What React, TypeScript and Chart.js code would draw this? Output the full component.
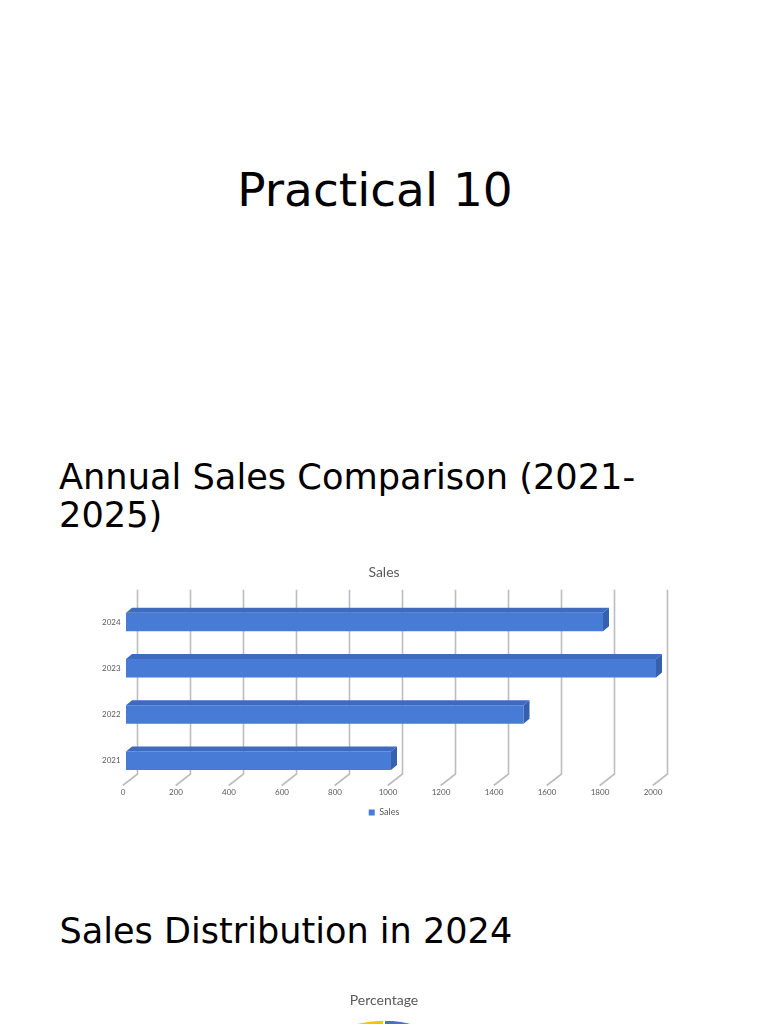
import React, { useEffect, useRef } from "react";
import { Chart, registerables } from "chart.js";

Chart.register(...registerables);

// ---- data ----
const years = ["2021", "2022", "2023", "2024"];
const salesValues = [1000, 1500, 2000, 1800];
const salesAxisMax = 2000;
const salesAxisStep = 200;

const pieLabels = ["Q1", "Q2", "Q3", "Q4"];
const piePercentages = [40, 25, 20, 15];
const pieColors = ["#4472c4", "#ed7d31", "#a5a5a5", "#ffc000"];

// ---- styles ----
const FRONT = "#487bd6";
const TOP_FACE = "#3e6bbf";
const SIDE_FACE = "#3560b0";
const GREY_TEXT = "#595959";
const CHART_FONT = "Lato, 'Open Sans', sans-serif";

const depthPlugin = {
  id: "depth3d",
  beforeDatasetsDraw(chart: any) {
    const { ctx, chartArea, scales } = chart;
    const xs = scales.x;
    ctx.save();
    ctx.strokeStyle = "#bdbdbd";
    ctx.lineWidth = 1.6;
    xs.ticks.forEach((t: any) => {
      const xf = xs.getPixelForValue(t.value);
      const xb = xf + 11.5;
      ctx.beginPath();
      ctx.moveTo(xb, chartArea.top - 9);
      ctx.lineTo(xb, chartArea.bottom - 10);
      ctx.lineTo(xf - 3.3, chartArea.bottom + 1.5);
      ctx.stroke();
    });
    ctx.restore();
  },
  afterDatasetsDraw(chart: any) {
    const { ctx } = chart;
    const meta = chart.getDatasetMeta(0);
    const dx = 6;
    const dy = 5;
    ctx.save();
    meta.data.forEach((bar: any) => {
      const { x, y, base, height } = bar.getProps(["x", "y", "base", "height"], true);
      const top = y - height / 2;
      const bottom = y + height / 2;
      ctx.fillStyle = TOP_FACE;
      ctx.beginPath();
      ctx.moveTo(base, top);
      ctx.lineTo(base + dx, top - dy);
      ctx.lineTo(x + dx, top - dy);
      ctx.lineTo(x, top);
      ctx.closePath();
      ctx.fill();
      ctx.fillStyle = SIDE_FACE;
      ctx.beginPath();
      ctx.moveTo(x, top);
      ctx.lineTo(x + dx, top - dy);
      ctx.lineTo(x + dx, bottom - dy);
      ctx.lineTo(x, bottom);
      ctx.closePath();
      ctx.fill();
    });
    ctx.restore();
  },
};

function SalesBarChart() {
  const ref = useRef<HTMLCanvasElement>(null);
  useEffect(() => {
    if (!ref.current) return;
    const chart = new Chart(ref.current, {
      type: "bar",
      data: {
        labels: years,
        datasets: [
          {
            label: "Sales",
            data: salesValues,
            backgroundColor: FRONT,
            borderWidth: 0,
            barPercentage: 0.4,
            categoryPercentage: 1,
          },
        ],
      },
      options: {
        indexAxis: "y",
        animation: false,
        responsive: true,
        maintainAspectRatio: false,
        layout: { padding: { left: 32, right: 32, top: 0, bottom: 0 } },
        scales: {
          x: {
            min: 0,
            max: salesAxisMax,
            grid: { display: false, drawTicks: false },
            border: { display: false },
            ticks: {
              stepSize: salesAxisStep,
              color: GREY_TEXT,
              font: { family: CHART_FONT, size: 8 },
              padding: 4,
              labelOffset: -3,
              maxRotation: 0,
              autoSkip: false,
              callback: (v: any) => String(v),
            },
          },
          y: {
            reverse: true,
            grid: { display: false, drawTicks: false },
            border: { display: false },
            ticks: {
              color: GREY_TEXT,
              font: { family: CHART_FONT, size: 8 },
              mirror: true,
              padding: -24,
            },
            afterFit: (scale: any) => {
              scale.width = 14;
            },
          },
        },
        plugins: {
          title: {
            display: true,
            text: "Sales",
            color: GREY_TEXT,
            font: { family: CHART_FONT, size: 14, weight: "normal" },
            padding: { top: 9, bottom: 18 },
          },
          legend: {
            display: true,
            position: "bottom",
            labels: {
              boxWidth: 6,
              boxHeight: 6,
              padding: 6.4,
              color: GREY_TEXT,
              font: { family: CHART_FONT, size: 9 },
            },
          },
          tooltip: { enabled: false },
        },
      },
      plugins: [depthPlugin],
    } as any);
    return () => chart.destroy();
  }, []);
  return (
    <div style={{ position: "absolute", left: 80, top: 555, width: 608, height: 272 }}>
      <canvas ref={ref} />
    </div>
  );
}

function PieChart() {
  const ref = useRef<HTMLCanvasElement>(null);
  useEffect(() => {
    if (!ref.current) return;
    const chart = new Chart(ref.current, {
      type: "pie",
      data: {
        labels: pieLabels,
        datasets: [
          {
            label: "Percentage",
            data: piePercentages,
            backgroundColor: pieColors,
            borderColor: "#ffffff",
            borderWidth: 2,
          },
        ],
      },
      options: {
        animation: false,
        responsive: true,
        maintainAspectRatio: false,
        plugins: {
          title: {
            display: true,
            text: "Percentage",
            color: GREY_TEXT,
            font: { family: CHART_FONT, size: 14, weight: "normal" },
            padding: { top: 7, bottom: 10 },
          },
          legend: {
            display: true,
            position: "bottom",
            labels: {
              boxWidth: 6,
              boxHeight: 6,
              padding: 11,
              color: GREY_TEXT,
              font: { family: CHART_FONT, size: 9 },
            },
          },
          tooltip: { enabled: false },
        },
      },
    } as any);
    return () => chart.destroy();
  }, []);
  return (
    <div style={{ position: "absolute", left: 80, top: 985, width: 608, height: 284 }}>
      <canvas ref={ref} />
    </div>
  );
}

const headingFont = "'DejaVu Sans', Verdana, sans-serif";

export default function App() {
  return (
    <div
      style={{
        position: "absolute",
        left: 0,
        top: 0,
        width: 768,
        height: 1024,
        overflow: "hidden",
        background: "#ffffff",
        fontFamily: headingFont,
        color: "#000000",
      }}
    >
      <div
        style={{
          position: "absolute",
          left: 0,
          top: 162.4,
          width: 750,
          textAlign: "center",
          fontSize: 47,
          lineHeight: "56px",
        }}
      >
        Practical 10
      </div>
      <div
        style={{
          position: "absolute",
          left: 59,
          top: 458,
          width: 620,
          fontSize: 35.2,
          lineHeight: "38.4px",
        }}
      >
        Annual Sales Comparison (2021-2025)
      </div>
      <SalesBarChart />
      <div
        style={{
          position: "absolute",
          left: 59.5,
          top: 911.5,
          width: 680,
          fontSize: 35.1,
          lineHeight: "38.4px",
          whiteSpace: "nowrap",
        }}
      >
        Sales Distribution in 2024
      </div>
      <PieChart />
    </div>
  );
}
